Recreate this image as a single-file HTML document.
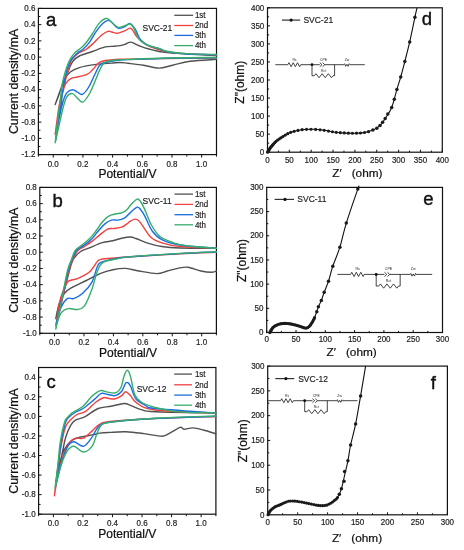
<!DOCTYPE html>
<html><head><meta charset="utf-8"><style>
html,body{margin:0;padding:0;background:#fff;width:464px;height:550px;overflow:hidden;position:relative;font-family:"Liberation Sans", sans-serif;}
</style></head><body>
<svg width="464" height="550" viewBox="0 0 464 550" style="position:absolute;left:0;top:0;font-family:'Liberation Sans', sans-serif;filter:blur(0.35px)">
<rect width="464" height="550" fill="#fff"/>
<rect x="38.4" y="8.4" width="178.1" height="146.2" fill="none" stroke="#111" stroke-width="1.2"/>
<text x="35.4" y="157.3" font-size="9.0" text-anchor="end" fill="#222" stroke="#222" stroke-width="0.2" textLength="13.78" lengthAdjust="spacingAndGlyphs">-1.2</text>
<text x="35.4" y="141.06" font-size="9.0" text-anchor="end" fill="#222" stroke="#222" stroke-width="0.2" textLength="13.78" lengthAdjust="spacingAndGlyphs">-1.0</text>
<text x="35.4" y="124.81" font-size="9.0" text-anchor="end" fill="#222" stroke="#222" stroke-width="0.2" textLength="13.78" lengthAdjust="spacingAndGlyphs">-0.8</text>
<text x="35.4" y="108.57" font-size="9.0" text-anchor="end" fill="#222" stroke="#222" stroke-width="0.2" textLength="13.78" lengthAdjust="spacingAndGlyphs">-0.6</text>
<text x="35.4" y="92.32" font-size="9.0" text-anchor="end" fill="#222" stroke="#222" stroke-width="0.2" textLength="13.78" lengthAdjust="spacingAndGlyphs">-0.4</text>
<text x="35.4" y="76.08" font-size="9.0" text-anchor="end" fill="#222" stroke="#222" stroke-width="0.2" textLength="13.78" lengthAdjust="spacingAndGlyphs">-0.2</text>
<text x="35.4" y="59.83" font-size="9.0" text-anchor="end" fill="#222" stroke="#222" stroke-width="0.2" textLength="11.12" lengthAdjust="spacingAndGlyphs">0.0</text>
<text x="35.4" y="43.59" font-size="9.0" text-anchor="end" fill="#222" stroke="#222" stroke-width="0.2" textLength="11.12" lengthAdjust="spacingAndGlyphs">0.2</text>
<text x="35.4" y="27.34" font-size="9.0" text-anchor="end" fill="#222" stroke="#222" stroke-width="0.2" textLength="11.12" lengthAdjust="spacingAndGlyphs">0.4</text>
<text x="35.4" y="11.1" font-size="9.0" text-anchor="end" fill="#222" stroke="#222" stroke-width="0.2" textLength="11.12" lengthAdjust="spacingAndGlyphs">0.6</text>
<path d="M38.4,154.6 h3 M38.4,146.48 h2 M38.4,138.36 h3 M38.4,130.23 h2 M38.4,122.11 h3 M38.4,113.99 h2 M38.4,105.87 h3 M38.4,97.74 h2 M38.4,89.62 h3 M38.4,81.5 h2 M38.4,73.38 h3 M38.4,65.26 h2 M38.4,57.13 h3 M38.4,49.01 h2 M38.4,40.89 h3 M38.4,32.77 h2 M38.4,24.64 h3 M38.4,16.52 h2 M38.4,8.4 h3 " stroke="#111" stroke-width="1" fill="none"/>
<text x="53.24" y="166.7" font-size="9.0" text-anchor="middle" fill="#222" stroke="#222" stroke-width="0.2" textLength="11.12" lengthAdjust="spacingAndGlyphs">0.0</text>
<text x="82.93" y="166.7" font-size="9.0" text-anchor="middle" fill="#222" stroke="#222" stroke-width="0.2" textLength="11.12" lengthAdjust="spacingAndGlyphs">0.2</text>
<text x="112.61" y="166.7" font-size="9.0" text-anchor="middle" fill="#222" stroke="#222" stroke-width="0.2" textLength="11.12" lengthAdjust="spacingAndGlyphs">0.4</text>
<text x="142.29" y="166.7" font-size="9.0" text-anchor="middle" fill="#222" stroke="#222" stroke-width="0.2" textLength="11.12" lengthAdjust="spacingAndGlyphs">0.6</text>
<text x="171.97" y="166.7" font-size="9.0" text-anchor="middle" fill="#222" stroke="#222" stroke-width="0.2" textLength="11.12" lengthAdjust="spacingAndGlyphs">0.8</text>
<text x="201.66" y="166.7" font-size="9.0" text-anchor="middle" fill="#222" stroke="#222" stroke-width="0.2" textLength="11.12" lengthAdjust="spacingAndGlyphs">1.0</text>
<path d="M38.4,154.6 v2 M53.24,154.6 v3 M68.08,154.6 v2 M82.93,154.6 v3 M97.77,154.6 v2 M112.61,154.6 v3 M127.45,154.6 v2 M142.29,154.6 v3 M157.13,154.6 v2 M171.97,154.6 v3 M186.82,154.6 v2 M201.66,154.6 v3 M216.5,154.6 v2 " stroke="#111" stroke-width="1" fill="none"/>
<path d="M55.2,104.6 C56.05,102.22 58.58,94.85 60.3,90.3 C62.02,85.75 64.03,80.87 65.5,77.3 C66.97,73.73 67.87,71.58 69.1,68.9 C70.33,66.22 71.18,63.35 72.9,61.2 C74.62,59.05 76.17,57.62 79.4,56 C82.63,54.38 87.98,53.02 92.3,51.5 C96.62,49.98 101.63,47.77 105.3,46.9 C108.97,46.03 111.85,46.52 114.3,46.3 C116.75,46.08 118.22,45.93 120,45.6 C121.78,45.27 123.18,44.88 125,44.3 C126.82,43.72 128.63,41.9 130.9,42.1 C133.17,42.3 135.58,44.35 138.6,45.5 C141.62,46.65 144.3,47.82 149,49 C153.7,50.18 155.55,51.52 166.8,52.6 C178.05,53.68 208.22,55.02 216.5,55.5 M216.5,59.4 C212.08,59.72 197.32,60.33 190,61.3 C182.68,62.27 177.77,64.07 172.6,65.2 C167.43,66.33 163.85,68.1 159,68.1 C154.15,68.1 148.67,66 143.5,65.2 C138.33,64.4 131.92,63.75 128,63.3 C124.08,62.85 122.72,62.53 120,62.5 C117.28,62.47 115.67,62.78 111.7,63.1 C107.73,63.42 101.58,63.65 96.2,64.4 C90.82,65.15 83.72,66.33 79.4,67.6 C75.08,68.87 72.83,69.95 70.3,72 C67.77,74.05 66.07,76.2 64.2,79.9 C62.33,83.6 60.6,90.08 59.1,94.2 C57.6,98.32 55.85,102.87 55.2,104.6" stroke="#515151" stroke-width="1.4" fill="none" stroke-linejoin="round" stroke-linecap="round"/>
<path d="M55.2,134.3 C55.85,129.57 57.82,112.95 59.1,105.9 C60.38,98.85 61.83,96.32 62.9,92 C63.97,87.68 64.68,83.33 65.5,80 C66.32,76.67 66.78,75.35 67.8,72 C68.82,68.65 69.88,63 71.6,59.9 C73.32,56.8 75.72,55.13 78.1,53.4 C80.48,51.67 83.32,51.23 85.9,49.5 C88.48,47.77 91.02,45.37 93.6,43 C96.18,40.63 99.02,37.23 101.4,35.3 C103.78,33.37 106.18,31.95 107.9,31.4 C109.62,30.85 110.2,31.68 111.7,32 C113.2,32.32 115.52,33.18 116.9,33.3 C118.28,33.42 118.68,33.1 120,32.7 C121.32,32.3 122.98,31.63 124.8,30.9 C126.62,30.17 128.88,27.3 130.9,28.3 C132.92,29.3 134.75,34.47 136.9,36.9 C139.05,39.33 141.62,41.3 143.8,42.9 C145.98,44.5 146.17,45.05 150,46.5 C153.83,47.95 160.77,50.42 166.8,51.6 C172.83,52.78 177.92,53.02 186.2,53.6 C194.48,54.18 211.45,54.85 216.5,55.1 M216.5,58 C208.22,58.08 181.55,58.3 166.8,58.5 C152.05,58.7 135.8,59.08 128,59.2 C120.2,59.32 123.78,58.98 120,59.2 C116.22,59.42 108.83,59.9 105.3,60.5 C101.77,61.1 100.9,61.28 98.8,62.8 C96.7,64.32 94.58,67.72 92.7,69.6 C90.82,71.48 89.87,72.92 87.5,74.1 C85.13,75.28 81.3,75.95 78.5,76.7 C75.7,77.45 72.87,77.42 70.7,78.6 C68.53,79.78 66.9,81.2 65.5,83.8 C64.1,86.4 63.17,90.67 62.3,94.2 C61.43,97.73 61.1,100.7 60.3,105 C59.5,109.3 58.35,115.12 57.5,120 C56.65,124.88 55.58,131.92 55.2,134.3" stroke="#F14040" stroke-width="1.4" fill="none" stroke-linejoin="round" stroke-linecap="round"/>
<path d="M55.8,140 C56.25,136.67 57.63,125.83 58.5,120 C59.37,114.17 60.27,110.17 61,105 C61.73,99.83 61.98,94.5 62.9,89 C63.82,83.5 65.27,76.63 66.5,72 C67.73,67.37 68.58,64.3 70.3,61.2 C72.02,58.1 74.63,55.45 76.8,53.4 C78.97,51.35 81.13,50.83 83.3,48.9 C85.47,46.97 87.65,44.72 89.8,41.8 C91.95,38.88 94.05,34.43 96.2,31.4 C98.35,28.37 100.75,25.43 102.7,23.6 C104.65,21.77 106.4,20.62 107.9,20.4 C109.4,20.18 110.2,21.12 111.7,22.3 C113.2,23.48 115.57,26.5 116.9,27.5 C118.23,28.5 118.38,28.45 119.7,28.3 C121.02,28.15 123.08,27.38 124.8,26.6 C126.52,25.82 128.27,23.18 130,23.6 C131.73,24.02 133.48,26.45 135.2,29.1 C136.92,31.75 138.3,36.87 140.3,39.5 C142.3,42.13 143.92,43.32 147.2,44.9 C150.48,46.48 156.73,47.88 160,49 C163.27,50.12 162.43,50.77 166.8,51.6 C171.17,52.43 177.92,53.47 186.2,54 C194.48,54.53 211.45,54.67 216.5,54.8 M216.5,57.8 C208.22,57.88 181.55,58 166.8,58.3 C152.05,58.6 135.8,59.32 128,59.6 C120.2,59.88 123,59.68 120,60 C117,60.32 113.25,60.77 110,61.5 C106.75,62.23 102.95,62.4 100.5,64.4 C98.05,66.4 97.25,69.73 95.3,73.5 C93.35,77.27 90.97,83.52 88.8,87 C86.63,90.48 84.18,93.53 82.3,94.4 C80.42,95.27 79.12,92.98 77.5,92.2 C75.88,91.42 74.38,89.58 72.6,89.7 C70.82,89.82 68.42,90.85 66.8,92.9 C65.18,94.95 64.18,97.68 62.9,102 C61.62,106.32 60.28,112.77 59.1,118.8 C57.92,124.83 56.35,134.97 55.8,138.2" stroke="#1A6FDF" stroke-width="1.4" fill="none" stroke-linejoin="round" stroke-linecap="round"/>
<path d="M55.2,142.7 C55.63,138.72 56.95,126.02 57.8,118.8 C58.65,111.58 59.55,105.23 60.3,99.4 C61.05,93.57 61.48,88.37 62.3,83.8 C63.12,79.23 64.07,75.77 65.2,72 C66.33,68.23 67.6,64.3 69.1,61.2 C70.6,58.1 72.27,55.57 74.2,53.4 C76.13,51.23 78.75,49.93 80.7,48.2 C82.65,46.47 83.97,45.37 85.9,43 C87.83,40.63 90.15,37.23 92.3,34 C94.45,30.77 96.63,26.18 98.8,23.6 C100.97,21.02 103.57,19.13 105.3,18.5 C107.03,17.87 107.7,18.73 109.2,19.8 C110.7,20.87 112.7,23.63 114.3,24.9 C115.9,26.17 117.05,27.27 118.8,27.4 C120.55,27.53 122.93,26.27 124.8,25.7 C126.67,25.13 128.57,23.72 130,24 C131.43,24.28 131.97,24.97 133.4,27.4 C134.83,29.83 136.58,35.78 138.6,38.6 C140.62,41.42 141.93,42.6 145.5,44.3 C149.07,46 156.45,47.65 160,48.8 C163.55,49.95 162.43,50.4 166.8,51.2 C171.17,52 177.92,53.05 186.2,53.6 C194.48,54.15 211.45,54.35 216.5,54.5 M216.5,57.5 C208.22,57.58 181.55,57.68 166.8,58 C152.05,58.32 135.8,59.08 128,59.4 C120.2,59.72 122.72,59.72 120,59.9 C117.28,60.08 114.37,59.97 111.7,60.5 C109.03,61.03 106.15,61.18 104,63.1 C101.85,65.02 99.93,69.85 98.8,72 C97.67,74.15 98.65,72.58 97.2,76 C95.75,79.42 92.47,88.17 90.1,92.5 C87.73,96.83 85.02,100.95 83,102 C80.98,103.05 79.73,100.2 78,98.8 C76.27,97.4 74.47,93.93 72.6,93.6 C70.73,93.27 68.42,94.32 66.8,96.8 C65.18,99.28 64.18,103.75 62.9,108.5 C61.62,113.25 60.38,119.6 59.1,125.3 C57.82,131 55.85,139.8 55.2,142.7" stroke="#37AD6B" stroke-width="1.4" fill="none" stroke-linejoin="round" stroke-linecap="round"/>
<text x="127.45" y="177.9" font-size="12" text-anchor="middle" fill="#111" stroke="#111" stroke-width="0.22">Potential/V</text>
<text x="0" y="0" font-size="12.3" text-anchor="middle" fill="#111" stroke="#111" stroke-width="0.22" transform="translate(18,81.4) rotate(-90)">Current density/mA</text>
<text x="46.1" y="25.5" font-size="18.5" text-anchor="start" fill="#111" stroke="#111" stroke-width="0.4">a</text>
<text x="142.5" y="30.8" font-size="9.18" text-anchor="start" fill="#222" stroke="#222" stroke-width="0.18" textLength="29.76" lengthAdjust="spacingAndGlyphs">SVC-21</text>
<line x1="174.3" y1="15.3" x2="193.1" y2="15.3" stroke="#515151" stroke-width="1.3"/>
<text x="194.9" y="18.1" font-size="8.64" text-anchor="start" fill="#222" stroke="#222" stroke-width="0.18" textLength="10.67" lengthAdjust="spacingAndGlyphs">1st</text>
<line x1="174.3" y1="25.5" x2="193.1" y2="25.5" stroke="#F14040" stroke-width="1.3"/>
<text x="194.9" y="28.3" font-size="8.64" text-anchor="start" fill="#222" stroke="#222" stroke-width="0.18" textLength="13.35" lengthAdjust="spacingAndGlyphs">2nd</text>
<line x1="174.3" y1="35.4" x2="193.1" y2="35.4" stroke="#1A6FDF" stroke-width="1.3"/>
<text x="194.9" y="38.2" font-size="8.64" text-anchor="start" fill="#222" stroke="#222" stroke-width="0.18" textLength="11.12" lengthAdjust="spacingAndGlyphs">3th</text>
<line x1="174.3" y1="45.6" x2="193.1" y2="45.6" stroke="#37AD6B" stroke-width="1.3"/>
<text x="194.9" y="48.4" font-size="8.64" text-anchor="start" fill="#222" stroke="#222" stroke-width="0.18" textLength="11.12" lengthAdjust="spacingAndGlyphs">4th</text>
<rect x="39.8" y="187.4" width="176.6" height="145.9" fill="none" stroke="#111" stroke-width="1.2"/>
<text x="36.8" y="336" font-size="9.0" text-anchor="end" fill="#222" stroke="#222" stroke-width="0.2" textLength="13.78" lengthAdjust="spacingAndGlyphs">-1.0</text>
<text x="36.8" y="319.79" font-size="9.0" text-anchor="end" fill="#222" stroke="#222" stroke-width="0.2" textLength="13.78" lengthAdjust="spacingAndGlyphs">-0.8</text>
<text x="36.8" y="303.58" font-size="9.0" text-anchor="end" fill="#222" stroke="#222" stroke-width="0.2" textLength="13.78" lengthAdjust="spacingAndGlyphs">-0.6</text>
<text x="36.8" y="287.37" font-size="9.0" text-anchor="end" fill="#222" stroke="#222" stroke-width="0.2" textLength="13.78" lengthAdjust="spacingAndGlyphs">-0.4</text>
<text x="36.8" y="271.16" font-size="9.0" text-anchor="end" fill="#222" stroke="#222" stroke-width="0.2" textLength="13.78" lengthAdjust="spacingAndGlyphs">-0.2</text>
<text x="36.8" y="254.94" font-size="9.0" text-anchor="end" fill="#222" stroke="#222" stroke-width="0.2" textLength="11.12" lengthAdjust="spacingAndGlyphs">0.0</text>
<text x="36.8" y="238.73" font-size="9.0" text-anchor="end" fill="#222" stroke="#222" stroke-width="0.2" textLength="11.12" lengthAdjust="spacingAndGlyphs">0.2</text>
<text x="36.8" y="222.52" font-size="9.0" text-anchor="end" fill="#222" stroke="#222" stroke-width="0.2" textLength="11.12" lengthAdjust="spacingAndGlyphs">0.4</text>
<text x="36.8" y="206.31" font-size="9.0" text-anchor="end" fill="#222" stroke="#222" stroke-width="0.2" textLength="11.12" lengthAdjust="spacingAndGlyphs">0.6</text>
<text x="36.8" y="190.1" font-size="9.0" text-anchor="end" fill="#222" stroke="#222" stroke-width="0.2" textLength="11.12" lengthAdjust="spacingAndGlyphs">0.8</text>
<path d="M39.8,333.3 h3 M39.8,325.19 h2 M39.8,317.09 h3 M39.8,308.98 h2 M39.8,300.88 h3 M39.8,292.77 h2 M39.8,284.67 h3 M39.8,276.56 h2 M39.8,268.46 h3 M39.8,260.35 h2 M39.8,252.24 h3 M39.8,244.14 h2 M39.8,236.03 h3 M39.8,227.93 h2 M39.8,219.82 h3 M39.8,211.72 h2 M39.8,203.61 h3 M39.8,195.51 h2 M39.8,187.4 h3 " stroke="#111" stroke-width="1" fill="none"/>
<text x="54.52" y="345.4" font-size="9.0" text-anchor="middle" fill="#222" stroke="#222" stroke-width="0.2" textLength="11.12" lengthAdjust="spacingAndGlyphs">0.0</text>
<text x="83.95" y="345.4" font-size="9.0" text-anchor="middle" fill="#222" stroke="#222" stroke-width="0.2" textLength="11.12" lengthAdjust="spacingAndGlyphs">0.2</text>
<text x="113.38" y="345.4" font-size="9.0" text-anchor="middle" fill="#222" stroke="#222" stroke-width="0.2" textLength="11.12" lengthAdjust="spacingAndGlyphs">0.4</text>
<text x="142.82" y="345.4" font-size="9.0" text-anchor="middle" fill="#222" stroke="#222" stroke-width="0.2" textLength="11.12" lengthAdjust="spacingAndGlyphs">0.6</text>
<text x="172.25" y="345.4" font-size="9.0" text-anchor="middle" fill="#222" stroke="#222" stroke-width="0.2" textLength="11.12" lengthAdjust="spacingAndGlyphs">0.8</text>
<text x="201.68" y="345.4" font-size="9.0" text-anchor="middle" fill="#222" stroke="#222" stroke-width="0.2" textLength="11.12" lengthAdjust="spacingAndGlyphs">1.0</text>
<path d="M39.8,333.3 v2 M54.52,333.3 v3 M69.23,333.3 v2 M83.95,333.3 v3 M98.67,333.3 v2 M113.38,333.3 v3 M128.1,333.3 v2 M142.82,333.3 v3 M157.53,333.3 v2 M172.25,333.3 v3 M186.97,333.3 v2 M201.68,333.3 v3 M216.4,333.3 v2 " stroke="#111" stroke-width="1" fill="none"/>
<path d="M55.8,318.6 C57.1,314.37 61.23,301.53 63.6,293.2 C65.97,284.87 68.35,274.3 70,268.6 C71.65,262.9 71.78,261.82 73.5,259 C75.22,256.18 77.65,253.55 80.3,251.7 C82.95,249.85 85.73,249.4 89.4,247.9 C93.07,246.4 98.42,243.88 102.3,242.7 C106.18,241.52 109.47,241.55 112.7,240.8 C115.93,240.05 118.72,238.83 121.7,238.2 C124.68,237.57 128.22,236.95 130.6,237 C132.98,237.05 133.3,237.53 136,238.5 C138.7,239.47 142.48,241.47 146.8,242.8 C151.12,244.13 156.37,245.63 161.9,246.5 C167.43,247.37 170.92,247.7 180,248 C189.08,248.3 210.33,248.25 216.4,248.3 M216.4,271 C215.53,271.22 213.78,272.3 211.2,272.3 C208.62,272.3 204.78,271.85 200.9,271 C197.02,270.15 191.78,267.63 187.9,267.2 C184.02,266.77 181.05,267.77 177.6,268.4 C174.15,269.03 170.65,270.13 167.2,271 C163.75,271.87 161.63,273.6 156.9,273.6 C152.17,273.6 143.97,271.87 138.8,271 C133.63,270.13 130.22,268.62 125.9,268.4 C121.58,268.18 117.22,268.83 112.9,269.7 C108.58,270.57 104.42,271.8 100,273.6 C95.58,275.4 91.1,278.15 86.4,280.5 C81.7,282.85 75.45,285.58 71.8,287.7 C68.15,289.82 66.62,290.47 64.5,293.2 C62.38,295.93 60.55,299.87 59.1,304.1 C57.65,308.33 56.35,316.18 55.8,318.6" stroke="#515151" stroke-width="1.4" fill="none" stroke-linejoin="round" stroke-linecap="round"/>
<path d="M56.4,324 C57.25,320.5 59.57,311.33 61.5,303 C63.43,294.67 66.15,281.17 68,274 C69.85,266.83 70.97,263.92 72.6,260 C74.23,256.08 75.87,252.73 77.8,250.5 C79.73,248.27 81.83,248.12 84.2,246.6 C86.57,245.08 89.4,243.35 92,241.4 C94.6,239.45 97.22,236.95 99.8,234.9 C102.38,232.85 105.13,230.17 107.5,229.1 C109.87,228.03 111.63,228.82 114,228.5 C116.37,228.18 119.55,227.97 121.7,227.2 C123.85,226.43 125.52,224.88 126.9,223.9 C128.28,222.92 128.65,222.1 130,221.3 C131.35,220.5 133.58,219.23 135,219.1 C136.42,218.97 137.25,219.42 138.5,220.5 C139.75,221.58 140.4,222.78 142.5,225.6 C144.6,228.42 147.87,234.53 151.1,237.4 C154.33,240.27 157.08,241.28 161.9,242.8 C166.72,244.32 170.92,245.58 180,246.5 C189.08,247.42 210.33,248 216.4,248.3 M216.4,252.2 C210.33,252.47 194.23,253.03 180,253.8 C165.77,254.57 141.83,256.1 131,256.8 C120.17,257.5 120,257.57 115,258 C110,258.43 103.95,258.8 101,259.4 C98.05,260 99.28,259.45 97.3,261.6 C95.32,263.75 92.43,269.47 89.1,272.3 C85.77,275.13 80.78,277.08 77.3,278.6 C73.82,280.12 70.48,279.58 68.2,281.4 C65.92,283.22 65.12,285.72 63.6,289.5 C62.08,293.28 60.3,298.35 59.1,304.1 C57.9,309.85 56.85,320.68 56.4,324" stroke="#F14040" stroke-width="1.4" fill="none" stroke-linejoin="round" stroke-linecap="round"/>
<path d="M56,326 C56.83,322.33 59.08,312.83 61,304 C62.92,295.17 65.68,280.33 67.5,273 C69.32,265.67 70.4,263.75 71.9,260 C73.4,256.25 74.67,252.85 76.5,250.5 C78.33,248.15 80.53,247.63 82.9,245.9 C85.27,244.17 88.32,242.37 90.7,240.1 C93.08,237.83 94.83,235 97.2,232.3 C99.57,229.6 102.53,225.93 104.9,223.9 C107.27,221.87 109.23,220.73 111.4,220.1 C113.57,219.47 115.75,220.43 117.9,220.1 C120.05,219.77 122.28,219.3 124.3,218.1 C126.32,216.9 127.87,214.72 130,212.9 C132.13,211.08 135.35,207.77 137.1,207.2 C138.85,206.63 139.23,208.05 140.5,209.5 C141.77,210.95 142.75,212.32 144.7,215.9 C146.65,219.48 149.33,227.05 152.2,231 C155.07,234.95 157.27,237.27 161.9,239.6 C166.53,241.93 170.92,243.55 180,245 C189.08,246.45 210.33,247.75 216.4,248.3 M216.4,252 C210.33,252.27 194.23,252.82 180,253.6 C165.77,254.38 141.83,255.87 131,256.7 C120.17,257.53 120,257.67 115,258.6 C110,259.53 103.95,260.93 101,262.3 C98.05,263.67 98.83,263.47 97.3,266.8 C95.77,270.13 94.23,277.9 91.8,282.3 C89.37,286.7 85.73,290.48 82.7,293.2 C79.67,295.92 76.17,297.7 73.6,298.6 C71.03,299.5 69.42,297.08 67.3,298.6 C65.18,300.12 62.72,303.75 60.9,307.7 C59.08,311.65 57.22,319.25 56.4,322.3 C55.58,325.35 56.07,325.38 56,326" stroke="#1A6FDF" stroke-width="1.4" fill="none" stroke-linejoin="round" stroke-linecap="round"/>
<path d="M55.8,329 C56.65,324.85 58.98,313.7 60.9,304.1 C62.82,294.5 65.57,278.75 67.3,271.4 C69.03,264.05 69.98,263.48 71.3,260 C72.62,256.52 73.48,252.95 75.2,250.5 C76.92,248.05 79.23,247.25 81.6,245.3 C83.97,243.35 87.02,241.18 89.4,238.8 C91.78,236.42 93.75,233.8 95.9,231 C98.05,228.2 100.15,224.47 102.3,222 C104.45,219.53 106.63,217.53 108.8,216.2 C110.97,214.87 113.15,214.55 115.3,214 C117.45,213.45 119.77,213.62 121.7,212.9 C123.63,212.18 125.35,211.1 126.9,209.7 C128.45,208.3 129.3,206.27 131,204.5 C132.7,202.73 135.52,199.6 137.1,199.1 C138.68,198.6 139.23,199.78 140.5,201.5 C141.77,203.22 142.93,205.57 144.7,209.4 C146.47,213.23 148.6,220.02 151.1,224.5 C153.6,228.98 156.47,233.43 159.7,236.3 C162.93,239.17 167.12,240.32 170.5,241.7 C173.88,243.08 175.92,243.75 180,244.6 C184.08,245.45 188.93,246.18 195,246.8 C201.07,247.42 212.83,248.05 216.4,248.3 M216.4,251.8 C210.33,252.07 194.23,252.6 180,253.4 C165.77,254.2 141.83,255.62 131,256.6 C120.17,257.58 119.72,258.3 115,259.3 C110.28,260.3 105.65,260.58 102.7,262.6 C99.75,264.62 99.12,266.92 97.3,271.4 C95.48,275.88 93.93,283.75 91.8,289.5 C89.67,295.25 86.92,302.57 84.5,305.9 C82.08,309.23 80.02,309.05 77.3,309.5 C74.58,309.95 70.93,307.98 68.2,308.6 C65.47,309.22 62.87,310.32 60.9,313.2 C58.93,316.08 57.25,323.27 56.4,325.9 C55.55,328.53 55.9,328.48 55.8,329" stroke="#37AD6B" stroke-width="1.4" fill="none" stroke-linejoin="round" stroke-linecap="round"/>
<text x="128.1" y="356.6" font-size="12" text-anchor="middle" fill="#111" stroke="#111" stroke-width="0.22">Potential/V</text>
<text x="0" y="0" font-size="12.3" text-anchor="middle" fill="#111" stroke="#111" stroke-width="0.22" transform="translate(18,260.2) rotate(-90)">Current density/mA</text>
<text x="52.4" y="207.2" font-size="18.5" text-anchor="start" fill="#111" stroke="#111" stroke-width="0.4">b</text>
<text x="142.5" y="203.7" font-size="9.18" text-anchor="start" fill="#222" stroke="#222" stroke-width="0.18" textLength="29.13" lengthAdjust="spacingAndGlyphs">SVC-11</text>
<line x1="174.5" y1="194.1" x2="193" y2="194.1" stroke="#515151" stroke-width="1.3"/>
<text x="194.9" y="196.9" font-size="8.64" text-anchor="start" fill="#222" stroke="#222" stroke-width="0.18" textLength="10.67" lengthAdjust="spacingAndGlyphs">1st</text>
<line x1="174.5" y1="204.4" x2="193" y2="204.4" stroke="#F14040" stroke-width="1.3"/>
<text x="194.9" y="207.2" font-size="8.64" text-anchor="start" fill="#222" stroke="#222" stroke-width="0.18" textLength="13.35" lengthAdjust="spacingAndGlyphs">2nd</text>
<line x1="174.5" y1="214.7" x2="193" y2="214.7" stroke="#1A6FDF" stroke-width="1.3"/>
<text x="194.9" y="217.5" font-size="8.64" text-anchor="start" fill="#222" stroke="#222" stroke-width="0.18" textLength="11.12" lengthAdjust="spacingAndGlyphs">3th</text>
<line x1="174.5" y1="224.8" x2="193" y2="224.8" stroke="#37AD6B" stroke-width="1.3"/>
<text x="194.9" y="227.6" font-size="8.64" text-anchor="start" fill="#222" stroke="#222" stroke-width="0.18" textLength="11.12" lengthAdjust="spacingAndGlyphs">4th</text>
<rect x="38.6" y="367.5" width="177.3" height="146.7" fill="none" stroke="#111" stroke-width="1.2"/>
<text x="35.6" y="516.9" font-size="9.0" text-anchor="end" fill="#222" stroke="#222" stroke-width="0.2" textLength="13.78" lengthAdjust="spacingAndGlyphs">-1.0</text>
<text x="35.6" y="497.34" font-size="9.0" text-anchor="end" fill="#222" stroke="#222" stroke-width="0.2" textLength="13.78" lengthAdjust="spacingAndGlyphs">-0.8</text>
<text x="35.6" y="477.78" font-size="9.0" text-anchor="end" fill="#222" stroke="#222" stroke-width="0.2" textLength="13.78" lengthAdjust="spacingAndGlyphs">-0.6</text>
<text x="35.6" y="458.22" font-size="9.0" text-anchor="end" fill="#222" stroke="#222" stroke-width="0.2" textLength="13.78" lengthAdjust="spacingAndGlyphs">-0.4</text>
<text x="35.6" y="438.66" font-size="9.0" text-anchor="end" fill="#222" stroke="#222" stroke-width="0.2" textLength="13.78" lengthAdjust="spacingAndGlyphs">-0.2</text>
<text x="35.6" y="419.1" font-size="9.0" text-anchor="end" fill="#222" stroke="#222" stroke-width="0.2" textLength="11.12" lengthAdjust="spacingAndGlyphs">0.0</text>
<text x="35.6" y="399.54" font-size="9.0" text-anchor="end" fill="#222" stroke="#222" stroke-width="0.2" textLength="11.12" lengthAdjust="spacingAndGlyphs">0.2</text>
<text x="35.6" y="379.98" font-size="9.0" text-anchor="end" fill="#222" stroke="#222" stroke-width="0.2" textLength="11.12" lengthAdjust="spacingAndGlyphs">0.4</text>
<path d="M38.6,514.2 h3 M38.6,504.42 h2 M38.6,494.64 h3 M38.6,484.86 h2 M38.6,475.08 h3 M38.6,465.3 h2 M38.6,455.52 h3 M38.6,445.74 h2 M38.6,435.96 h3 M38.6,426.18 h2 M38.6,416.4 h3 M38.6,406.62 h2 M38.6,396.84 h3 M38.6,387.06 h2 M38.6,377.28 h3 M38.6,367.5 h2 " stroke="#111" stroke-width="1" fill="none"/>
<text x="53.38" y="526.3" font-size="9.0" text-anchor="middle" fill="#222" stroke="#222" stroke-width="0.2" textLength="11.12" lengthAdjust="spacingAndGlyphs">0.0</text>
<text x="82.93" y="526.3" font-size="9.0" text-anchor="middle" fill="#222" stroke="#222" stroke-width="0.2" textLength="11.12" lengthAdjust="spacingAndGlyphs">0.2</text>
<text x="112.47" y="526.3" font-size="9.0" text-anchor="middle" fill="#222" stroke="#222" stroke-width="0.2" textLength="11.12" lengthAdjust="spacingAndGlyphs">0.4</text>
<text x="142.03" y="526.3" font-size="9.0" text-anchor="middle" fill="#222" stroke="#222" stroke-width="0.2" textLength="11.12" lengthAdjust="spacingAndGlyphs">0.6</text>
<text x="171.58" y="526.3" font-size="9.0" text-anchor="middle" fill="#222" stroke="#222" stroke-width="0.2" textLength="11.12" lengthAdjust="spacingAndGlyphs">0.8</text>
<text x="201.13" y="526.3" font-size="9.0" text-anchor="middle" fill="#222" stroke="#222" stroke-width="0.2" textLength="11.12" lengthAdjust="spacingAndGlyphs">1.0</text>
<path d="M38.6,514.2 v2 M53.38,514.2 v3 M68.15,514.2 v2 M82.93,514.2 v3 M97.7,514.2 v2 M112.47,514.2 v3 M127.25,514.2 v2 M142.03,514.2 v3 M156.8,514.2 v2 M171.58,514.2 v3 M186.35,514.2 v2 M201.13,514.2 v3 M215.9,514.2 v2 " stroke="#111" stroke-width="1" fill="none"/>
<path d="M55.8,485.5 C56.25,482.92 57.53,474.85 58.5,470 C59.47,465.15 60.43,461.73 61.6,456.4 C62.77,451.07 64.03,443.1 65.5,438 C66.97,432.9 68.73,428.77 70.4,425.8 C72.07,422.83 73.03,421.73 75.5,420.2 C77.97,418.67 81.43,418.55 85.2,416.6 C88.97,414.65 93.8,410.22 98.1,408.5 C102.4,406.78 106.68,407.13 111,406.3 C115.32,405.47 120.77,403.67 124,403.5 C127.23,403.33 127.53,404.28 130.4,405.3 C133.27,406.32 137.1,408.53 141.2,409.6 C145.3,410.67 142.55,411.13 155,411.7 C167.45,412.27 205.75,412.78 215.9,413 M215.9,433.8 C213.82,433.17 207.2,430.98 203.4,430 C199.6,429.02 196.33,428.03 193.1,427.9 C189.87,427.77 186.15,429.28 184,429.2 C181.85,429.12 182.57,426.75 180.2,427.4 C177.83,428.05 172.82,431.63 169.8,433.1 C166.78,434.57 166.4,436.12 162.1,436.2 C157.8,436.28 150.03,434.33 144,433.6 C137.97,432.87 131.62,432 125.9,431.8 C120.18,431.6 114.02,432.18 109.7,432.4 C105.38,432.62 102.67,432.73 100,433.1 C97.33,433.47 97.18,433.87 93.7,434.6 C90.22,435.33 82.75,436.53 79.1,437.5 C75.45,438.47 74.22,438.47 71.8,440.4 C69.38,442.33 66.53,445.7 64.6,449.1 C62.67,452.5 61.67,454.73 60.2,460.8 C58.73,466.87 56.53,481.38 55.8,485.5" stroke="#515151" stroke-width="1.4" fill="none" stroke-linejoin="round" stroke-linecap="round"/>
<path d="M54.4,495.7 C55.12,489.88 57.27,470.75 58.7,460.8 C60.13,450.85 61.78,441.8 63,436 C64.22,430.2 64.82,428.62 66,426 C67.18,423.38 68.27,422.22 70.1,420.3 C71.93,418.38 74.48,415.93 77,414.5 C79.52,413.07 82.03,413.78 85.2,411.7 C88.37,409.62 92.95,404.33 96,402 C99.05,399.67 101.33,398.28 103.5,397.7 C105.67,397.12 107.03,398.32 109,398.5 C110.97,398.68 113.17,399.28 115.3,398.8 C117.43,398.32 120.07,396.78 121.8,395.6 C123.53,394.42 124.27,391.7 125.7,391.7 C127.13,391.7 128.53,393.7 130.4,395.6 C132.27,397.5 132.8,400.7 136.9,403.1 C141,405.5 141.83,408.35 155,410 C168.17,411.65 205.75,412.5 215.9,413 M215.9,416.5 C205.75,416.83 172.7,417.67 155,418.5 C137.3,419.33 118.95,420.52 109.7,421.5 C100.45,422.48 102.42,422.83 99.5,424.4 C96.58,425.97 94.87,428.6 92.2,430.9 C89.53,433.2 86.17,436.98 83.5,438.2 C80.83,439.42 78.38,437.6 76.2,438.2 C74.02,438.8 72.33,439.5 70.4,441.8 C68.47,444.1 66.55,447.15 64.6,452 C62.65,456.85 60.4,463.62 58.7,470.9 C57,478.18 55.12,491.57 54.4,495.7" stroke="#F14040" stroke-width="1.4" fill="none" stroke-linejoin="round" stroke-linecap="round"/>
<path d="M55.5,486 C55.97,482.67 57.38,473.17 58.3,466 C59.22,458.83 59.88,450 61,443 C62.12,436 63.85,428.13 65,424 C66.15,419.87 66.23,420.12 67.9,418.2 C69.57,416.28 72.48,414.12 75,412.5 C77.52,410.88 79.87,410.6 83,408.5 C86.13,406.4 90.75,402.42 93.8,399.9 C96.85,397.38 98.93,394.3 101.3,393.4 C103.67,392.5 105.67,394.13 108,394.5 C110.33,394.87 113,396.13 115.3,395.6 C117.6,395.07 120,393.47 121.8,391.3 C123.6,389.13 124.67,383.5 126.1,382.6 C127.53,381.7 128.78,383.2 130.4,385.9 C132.02,388.6 133.28,395.57 135.8,398.8 C138.32,402.03 142.3,403.68 145.5,405.3 C148.7,406.92 143.27,407.22 155,408.5 C166.73,409.78 205.75,412.25 215.9,413 M215.9,416.3 C205.75,416.67 172.7,417.52 155,418.5 C137.3,419.48 118.95,420.98 109.7,422.2 C100.45,423.42 101.93,424.23 99.5,425.8 C97.07,427.37 96.55,429.42 95.1,431.6 C93.65,433.78 92.73,436.47 90.8,438.9 C88.87,441.33 86.3,445.72 83.5,446.2 C80.7,446.68 76.43,442.05 74,441.8 C71.57,441.55 70.72,442.03 68.9,444.7 C67.08,447.37 65.15,451.73 63.1,457.8 C61.05,463.87 57.87,476.4 56.6,481.1 C55.33,485.8 55.68,485.18 55.5,486" stroke="#1A6FDF" stroke-width="1.4" fill="none" stroke-linejoin="round" stroke-linecap="round"/>
<path d="M55.1,488.4 C55.58,484.28 57.12,471.6 58,463.7 C58.88,455.8 59.3,447.95 60.4,441 C61.5,434.05 63.5,425.83 64.6,422 C65.7,418.17 65.73,419.53 67,418 C68.27,416.47 69.53,414.75 72.2,412.8 C74.87,410.85 79.77,409 83,406.3 C86.23,403.6 88.72,399.22 91.6,396.6 C94.48,393.98 97.78,391.38 100.3,390.6 C102.82,389.82 104.2,391.53 106.7,391.9 C109.2,392.27 112.97,393.45 115.3,392.8 C117.63,392.15 119.25,390.77 120.7,388 C122.15,385.23 122.92,379.15 124,376.2 C125.08,373.25 126.13,370.3 127.2,370.3 C128.27,370.3 129.15,372.17 130.4,376.2 C131.65,380.23 132.9,390.2 134.7,394.5 C136.5,398.8 137.82,399.85 141.2,402 C144.58,404.15 149.12,405.8 155,407.4 C160.88,409 166.35,410.67 176.5,411.6 C186.65,412.53 209.33,412.77 215.9,413 M215.9,416 C205.75,416.37 172.7,417.17 155,418.2 C137.3,419.23 118.72,420.93 109.7,422.2 C100.68,423.47 103.08,423.73 100.9,425.8 C98.72,427.87 98.05,431.2 96.6,434.6 C95.15,438 94.38,443.3 92.2,446.2 C90.02,449.1 86.53,452 83.5,452 C80.47,452 76.67,446.43 74,446.2 C71.33,445.97 69.57,447.68 67.5,450.6 C65.43,453.52 63.67,457.4 61.6,463.7 C59.53,470 56.18,484.28 55.1,488.4" stroke="#37AD6B" stroke-width="1.4" fill="none" stroke-linejoin="round" stroke-linecap="round"/>
<text x="127.25" y="537.5" font-size="12" text-anchor="middle" fill="#111" stroke="#111" stroke-width="0.22">Potential/V</text>
<text x="0" y="0" font-size="12.3" text-anchor="middle" fill="#111" stroke="#111" stroke-width="0.22" transform="translate(18,441) rotate(-90)">Current density/mA</text>
<text x="46.4" y="387.6" font-size="18.5" text-anchor="start" fill="#111" stroke="#111" stroke-width="0.4">c</text>
<text x="136.7" y="392.1" font-size="9.18" text-anchor="start" fill="#222" stroke="#222" stroke-width="0.18" textLength="29.76" lengthAdjust="spacingAndGlyphs">SVC-12</text>
<line x1="174.2" y1="374.1" x2="192" y2="374.1" stroke="#515151" stroke-width="1.3"/>
<text x="194.9" y="376.9" font-size="8.64" text-anchor="start" fill="#222" stroke="#222" stroke-width="0.18" textLength="10.67" lengthAdjust="spacingAndGlyphs">1st</text>
<line x1="174.2" y1="384.8" x2="192" y2="384.8" stroke="#F14040" stroke-width="1.3"/>
<text x="194.9" y="387.6" font-size="8.64" text-anchor="start" fill="#222" stroke="#222" stroke-width="0.18" textLength="13.35" lengthAdjust="spacingAndGlyphs">2nd</text>
<line x1="174.2" y1="395.1" x2="192" y2="395.1" stroke="#1A6FDF" stroke-width="1.3"/>
<text x="194.9" y="397.9" font-size="8.64" text-anchor="start" fill="#222" stroke="#222" stroke-width="0.18" textLength="11.12" lengthAdjust="spacingAndGlyphs">3th</text>
<line x1="174.2" y1="405.2" x2="192" y2="405.2" stroke="#37AD6B" stroke-width="1.3"/>
<text x="194.9" y="408" font-size="8.64" text-anchor="start" fill="#222" stroke="#222" stroke-width="0.18" textLength="11.12" lengthAdjust="spacingAndGlyphs">4th</text>
<rect x="267.5" y="7.8" width="174.8" height="144.4" fill="none" stroke="#111" stroke-width="1.2"/>
<text x="264.3" y="154.9" font-size="9.0" text-anchor="end" fill="#222" stroke="#222" stroke-width="0.2" textLength="4.45" lengthAdjust="spacingAndGlyphs">0</text>
<text x="264.3" y="136.85" font-size="9.0" text-anchor="end" fill="#222" stroke="#222" stroke-width="0.2" textLength="8.9" lengthAdjust="spacingAndGlyphs">50</text>
<text x="264.3" y="118.8" font-size="9.0" text-anchor="end" fill="#222" stroke="#222" stroke-width="0.2" textLength="13.34" lengthAdjust="spacingAndGlyphs">100</text>
<text x="264.3" y="100.75" font-size="9.0" text-anchor="end" fill="#222" stroke="#222" stroke-width="0.2" textLength="13.34" lengthAdjust="spacingAndGlyphs">150</text>
<text x="264.3" y="82.7" font-size="9.0" text-anchor="end" fill="#222" stroke="#222" stroke-width="0.2" textLength="13.34" lengthAdjust="spacingAndGlyphs">200</text>
<text x="264.3" y="64.65" font-size="9.0" text-anchor="end" fill="#222" stroke="#222" stroke-width="0.2" textLength="13.34" lengthAdjust="spacingAndGlyphs">250</text>
<text x="264.3" y="46.6" font-size="9.0" text-anchor="end" fill="#222" stroke="#222" stroke-width="0.2" textLength="13.34" lengthAdjust="spacingAndGlyphs">300</text>
<text x="264.3" y="28.55" font-size="9.0" text-anchor="end" fill="#222" stroke="#222" stroke-width="0.2" textLength="13.34" lengthAdjust="spacingAndGlyphs">350</text>
<text x="264.3" y="10.5" font-size="9.0" text-anchor="end" fill="#222" stroke="#222" stroke-width="0.2" textLength="13.34" lengthAdjust="spacingAndGlyphs">400</text>
<path d="M267.5,152.2 h2.5 M267.5,143.17 h1.6 M267.5,134.15 h2.5 M267.5,125.12 h1.6 M267.5,116.1 h2.5 M267.5,107.07 h1.6 M267.5,98.05 h2.5 M267.5,89.03 h1.6 M267.5,80 h2.5 M267.5,70.97 h1.6 M267.5,61.95 h2.5 M267.5,52.93 h1.6 M267.5,43.9 h2.5 M267.5,34.88 h1.6 M267.5,25.85 h2.5 M267.5,16.83 h1.6 M267.5,7.8 h2.5 " stroke="#111" stroke-width="1" fill="none"/>
<text x="267.5" y="162.5" font-size="9.0" text-anchor="middle" fill="#222" stroke="#222" stroke-width="0.2" textLength="4.45" lengthAdjust="spacingAndGlyphs">0</text>
<text x="289.35" y="162.5" font-size="9.0" text-anchor="middle" fill="#222" stroke="#222" stroke-width="0.2" textLength="8.9" lengthAdjust="spacingAndGlyphs">50</text>
<text x="311.2" y="162.5" font-size="9.0" text-anchor="middle" fill="#222" stroke="#222" stroke-width="0.2" textLength="13.34" lengthAdjust="spacingAndGlyphs">100</text>
<text x="333.05" y="162.5" font-size="9.0" text-anchor="middle" fill="#222" stroke="#222" stroke-width="0.2" textLength="13.34" lengthAdjust="spacingAndGlyphs">150</text>
<text x="354.9" y="162.5" font-size="9.0" text-anchor="middle" fill="#222" stroke="#222" stroke-width="0.2" textLength="13.34" lengthAdjust="spacingAndGlyphs">200</text>
<text x="376.75" y="162.5" font-size="9.0" text-anchor="middle" fill="#222" stroke="#222" stroke-width="0.2" textLength="13.34" lengthAdjust="spacingAndGlyphs">250</text>
<text x="398.6" y="162.5" font-size="9.0" text-anchor="middle" fill="#222" stroke="#222" stroke-width="0.2" textLength="13.34" lengthAdjust="spacingAndGlyphs">300</text>
<text x="420.45" y="162.5" font-size="9.0" text-anchor="middle" fill="#222" stroke="#222" stroke-width="0.2" textLength="13.34" lengthAdjust="spacingAndGlyphs">350</text>
<text x="442.3" y="162.5" font-size="9.0" text-anchor="middle" fill="#222" stroke="#222" stroke-width="0.2" textLength="13.34" lengthAdjust="spacingAndGlyphs">400</text>
<path d="M267.5,152.2 v-2.5 M278.43,152.2 v-1.6 M289.35,152.2 v-2.5 M300.27,152.2 v-1.6 M311.2,152.2 v-2.5 M322.12,152.2 v-1.6 M333.05,152.2 v-2.5 M343.98,152.2 v-1.6 M354.9,152.2 v-2.5 M365.82,152.2 v-1.6 M376.75,152.2 v-2.5 M387.68,152.2 v-1.6 M398.6,152.2 v-2.5 M409.52,152.2 v-1.6 M420.45,152.2 v-2.5 M431.38,152.2 v-1.6 M442.3,152.2 v-2.5 " stroke="#111" stroke-width="1" fill="none"/>
<path d="M267.6,152.2 C267.83,151.8 268.4,150.72 269,149.8 C269.6,148.88 269.98,148.15 271.2,146.7 C272.42,145.25 274.3,142.82 276.3,141.1 C278.3,139.38 281.03,137.77 283.2,136.4 C285.37,135.03 287.13,133.83 289.3,132.9 C291.47,131.97 293.77,131.37 296.2,130.8 C298.63,130.23 301.02,129.75 303.9,129.5 C306.78,129.25 310.12,129.17 313.5,129.3 C316.88,129.43 320.48,129.8 324.2,130.3 C327.92,130.8 331.92,131.83 335.8,132.3 C339.68,132.77 343.98,132.95 347.5,133.1 C351.02,133.25 353.95,133.32 356.9,133.2 C359.85,133.08 362.53,132.92 365.2,132.4 C367.87,131.88 370.43,131.23 372.9,130.1 C375.37,128.97 377.95,127.53 380,125.6 C382.05,123.67 383.25,121.52 385.2,118.5 C387.15,115.48 389.75,112.35 391.7,107.5 C393.65,102.65 395.4,94.47 396.9,89.4 C398.4,84.33 399.38,81.73 400.7,77.1 C402.02,72.47 403.3,67.47 404.8,61.6 C406.3,55.73 408.02,49.28 409.7,41.9 C411.38,34.52 413.68,22.98 414.9,17.3 C416.12,11.62 416.65,9.38 417,7.8" stroke="#111" stroke-width="1.1" fill="none"/>
<g fill="#1a1a1a"><circle cx="267.6" cy="152.2" r="1.6"/><circle cx="268.1" cy="151.3" r="1.6"/><circle cx="268.63" cy="150.39" r="1.6"/><circle cx="269.22" cy="149.46" r="1.6"/><circle cx="269.87" cy="148.45" r="1.6"/><circle cx="270.66" cy="147.37" r="1.6"/><circle cx="271.52" cy="146.32" r="1.6"/><circle cx="272.42" cy="145.22" r="1.6"/><circle cx="273.46" cy="144" r="1.6"/><circle cx="274.59" cy="142.74" r="1.6"/><circle cx="275.8" cy="141.54" r="1.6"/><circle cx="277.36" cy="140.25" r="1.6"/><circle cx="279.09" cy="139.02" r="1.6"/><circle cx="280.89" cy="137.84" r="1.6"/><circle cx="282.93" cy="136.57" r="1.6"/><circle cx="285.26" cy="135.09" r="1.6"/><circle cx="287.74" cy="133.65" r="1.6"/><circle cx="290.67" cy="132.36" r="1.6"/><circle cx="294.1" cy="131.31" r="1.6"/><circle cx="298.02" cy="130.39" r="1.6"/><circle cx="302.16" cy="129.69" r="1.6"/><circle cx="306.53" cy="129.33" r="1.6"/><circle cx="310.98" cy="129.24" r="1.6"/><circle cx="315.64" cy="129.41" r="1.6"/><circle cx="320.07" cy="129.8" r="1.6"/><circle cx="324.2" cy="130.3" r="1.6"/><circle cx="328.48" cy="131.03" r="1.6"/><circle cx="332.38" cy="131.77" r="1.6"/><circle cx="336.29" cy="132.36" r="1.6"/><circle cx="340.28" cy="132.72" r="1.6"/><circle cx="344.25" cy="132.95" r="1.6"/><circle cx="348.37" cy="133.14" r="1.6"/><circle cx="352.41" cy="133.25" r="1.6"/><circle cx="356.53" cy="133.21" r="1.6"/><circle cx="360.47" cy="133.01" r="1.6"/><circle cx="364.53" cy="132.52" r="1.6"/><circle cx="368.48" cy="131.66" r="1.6"/><circle cx="414.9" cy="17.3" r="1.75"/><circle cx="409.7" cy="41.9" r="1.75"/><circle cx="404.8" cy="61.6" r="1.75"/><circle cx="400.7" cy="77.1" r="1.75"/><circle cx="396.9" cy="89.4" r="1.75"/><circle cx="394.3" cy="99.3" r="1.75"/><circle cx="391.7" cy="107.5" r="1.75"/><circle cx="387.8" cy="113.9" r="1.75"/><circle cx="385.2" cy="118.5" r="1.75"/><circle cx="382.6" cy="122.3" r="1.75"/><circle cx="380" cy="125.6" r="1.75"/><circle cx="376.8" cy="128.2" r="1.75"/><circle cx="372.9" cy="130.1" r="1.75"/></g>
<path d="M275.4,64.7 H287.9 L288.97,62.7 L291.1,66.7 L293.23,62.7 L295.37,66.7 L297.5,62.7 L299.63,66.7 L300.7,64.7 H319.8 M325,64.7 H344.4 M349.4,64.7 H364.8 M312,64.7 V75.7 H314.4 L315.95,73.7 L319.05,77.7 L322.15,73.7 L325.25,77.7 L328.35,73.7 L331.45,77.7 L333,75.7 H334.6 V64.7 M319.8,62.7 L322,64.7 L319.8,66.7 M322.6,62.7 L324.8,64.7 L322.6,66.7 M324.8,64.7 H325 M344.6,63.5 L345.7,66.3 L346.9,64.3 L348.1,66.3 L349.2,63.5 " stroke="#222" stroke-width="0.85" fill="none" stroke-linejoin="miter"/>
<circle cx="312" cy="64.7" r="1.4" fill="#111"/>
<text x="294.5" y="60.9" font-size="3.4" text-anchor="middle" fill="#222" >Rs</text>
<text x="323.6" y="60.9" font-size="3.4" text-anchor="middle" fill="#222" >CPE</text>
<text x="323.6" y="72.3" font-size="3.4" text-anchor="middle" fill="#222" >Rct</text>
<text x="346.9" y="60.9" font-size="3.4" text-anchor="middle" fill="#222" >Zw</text>
<text x="421.7" y="24.9" font-size="18.5" text-anchor="start" fill="#111" stroke="#111" stroke-width="0.4">d</text>
<line x1="281.9" y1="20.1" x2="300.2" y2="20.1" stroke="#333" stroke-width="1.2"/>
<circle cx="291.1" cy="20.1" r="1.6" fill="#111"/>
<text x="303.4" y="22.8" font-size="9.18" text-anchor="start" fill="#222" stroke="#222" stroke-width="0.18" textLength="29.76" lengthAdjust="spacingAndGlyphs">SVC-21</text>
<text x="332.3" y="177.2" font-size="11.8" text-anchor="start" fill="#111" stroke="#111" stroke-width="0.22">Z′</text>
<text x="351.7" y="177.2" font-size="11.8" text-anchor="start" fill="#111" stroke="#111" stroke-width="0.22">(ohm)</text>
<text x="0" y="0" font-size="12" text-anchor="middle" fill="#111" stroke="#111" stroke-width="0.22" transform="translate(244.3,82.2) rotate(-90)">Z"(ohm)</text>
<rect x="266.7" y="187.4" width="175.8" height="145.1" fill="none" stroke="#111" stroke-width="1.2"/>
<text x="263.5" y="335.2" font-size="9.0" text-anchor="end" fill="#222" stroke="#222" stroke-width="0.2" textLength="4.45" lengthAdjust="spacingAndGlyphs">0</text>
<text x="263.5" y="311.02" font-size="9.0" text-anchor="end" fill="#222" stroke="#222" stroke-width="0.2" textLength="8.9" lengthAdjust="spacingAndGlyphs">50</text>
<text x="263.5" y="286.83" font-size="9.0" text-anchor="end" fill="#222" stroke="#222" stroke-width="0.2" textLength="13.34" lengthAdjust="spacingAndGlyphs">100</text>
<text x="263.5" y="262.65" font-size="9.0" text-anchor="end" fill="#222" stroke="#222" stroke-width="0.2" textLength="13.34" lengthAdjust="spacingAndGlyphs">150</text>
<text x="263.5" y="238.47" font-size="9.0" text-anchor="end" fill="#222" stroke="#222" stroke-width="0.2" textLength="13.34" lengthAdjust="spacingAndGlyphs">200</text>
<text x="263.5" y="214.28" font-size="9.0" text-anchor="end" fill="#222" stroke="#222" stroke-width="0.2" textLength="13.34" lengthAdjust="spacingAndGlyphs">250</text>
<text x="263.5" y="190.1" font-size="9.0" text-anchor="end" fill="#222" stroke="#222" stroke-width="0.2" textLength="13.34" lengthAdjust="spacingAndGlyphs">300</text>
<path d="M266.7,332.5 h2.5 M266.7,320.41 h1.6 M266.7,308.32 h2.5 M266.7,296.23 h1.6 M266.7,284.13 h2.5 M266.7,272.04 h1.6 M266.7,259.95 h2.5 M266.7,247.86 h1.6 M266.7,235.77 h2.5 M266.7,223.68 h1.6 M266.7,211.58 h2.5 M266.7,199.49 h1.6 M266.7,187.4 h2.5 " stroke="#111" stroke-width="1" fill="none"/>
<text x="266.7" y="342" font-size="9.0" text-anchor="middle" fill="#222" stroke="#222" stroke-width="0.2" textLength="4.45" lengthAdjust="spacingAndGlyphs">0</text>
<text x="296" y="342" font-size="9.0" text-anchor="middle" fill="#222" stroke="#222" stroke-width="0.2" textLength="8.9" lengthAdjust="spacingAndGlyphs">50</text>
<text x="325.3" y="342" font-size="9.0" text-anchor="middle" fill="#222" stroke="#222" stroke-width="0.2" textLength="13.34" lengthAdjust="spacingAndGlyphs">100</text>
<text x="354.6" y="342" font-size="9.0" text-anchor="middle" fill="#222" stroke="#222" stroke-width="0.2" textLength="13.34" lengthAdjust="spacingAndGlyphs">150</text>
<text x="383.9" y="342" font-size="9.0" text-anchor="middle" fill="#222" stroke="#222" stroke-width="0.2" textLength="13.34" lengthAdjust="spacingAndGlyphs">200</text>
<text x="413.2" y="342" font-size="9.0" text-anchor="middle" fill="#222" stroke="#222" stroke-width="0.2" textLength="13.34" lengthAdjust="spacingAndGlyphs">250</text>
<text x="442.5" y="342" font-size="9.0" text-anchor="middle" fill="#222" stroke="#222" stroke-width="0.2" textLength="13.34" lengthAdjust="spacingAndGlyphs">300</text>
<path d="M266.7,332.5 v-2.5 M281.35,332.5 v-1.6 M296,332.5 v-2.5 M310.65,332.5 v-1.6 M325.3,332.5 v-2.5 M339.95,332.5 v-1.6 M354.6,332.5 v-2.5 M369.25,332.5 v-1.6 M383.9,332.5 v-2.5 M398.55,332.5 v-1.6 M413.2,332.5 v-2.5 M427.85,332.5 v-1.6 M442.5,332.5 v-2.5 " stroke="#111" stroke-width="1" fill="none"/>
<path d="M269.9,332.6 C270.17,332.08 270.85,330.47 271.5,329.5 C272.15,328.53 272.57,327.68 273.8,326.8 C275.03,325.92 276.97,324.77 278.9,324.2 C280.83,323.63 283.23,323.4 285.4,323.4 C287.57,323.4 289.53,323.73 291.9,324.2 C294.27,324.67 297.37,325.55 299.6,326.2 C301.83,326.85 303.77,328 305.3,328.1 C306.83,328.2 307.65,327.77 308.8,326.8 C309.95,325.83 311.17,324.02 312.2,322.3 C313.23,320.58 313.97,319.08 315,316.5 C316.03,313.92 317.35,309.45 318.4,306.8 C319.45,304.15 320.33,303.02 321.3,300.6 C322.27,298.18 323,295.53 324.2,292.3 C325.4,289.07 327.07,285.55 328.5,281.2 C329.93,276.85 330.9,271.87 332.8,266.2 C334.7,260.53 337.65,254.38 339.9,247.2 C342.15,240.02 343.32,232.78 346.3,223.1 C349.28,213.42 355.78,195.05 357.8,189.1 C359.82,183.15 358.3,187.68 358.4,187.4" stroke="#111" stroke-width="1.1" fill="none"/>
<g fill="#1a1a1a"><circle cx="269.9" cy="332.6" r="1.6"/><circle cx="270.49" cy="331.36" r="1.6"/><circle cx="271.09" cy="330.17" r="1.6"/><circle cx="271.81" cy="329.03" r="1.6"/><circle cx="272.61" cy="327.9" r="1.6"/><circle cx="273.51" cy="327.02" r="1.6"/><circle cx="274.66" cy="326.22" r="1.6"/><circle cx="275.87" cy="325.5" r="1.6"/><circle cx="277.23" cy="324.82" r="1.6"/><circle cx="278.66" cy="324.27" r="1.6"/><circle cx="280.16" cy="323.89" r="1.6"/><circle cx="281.51" cy="323.66" r="1.6"/><circle cx="282.9" cy="323.5" r="1.6"/><circle cx="284.3" cy="323.42" r="1.6"/><circle cx="285.67" cy="323.4" r="1.6"/><circle cx="287.26" cy="323.48" r="1.6"/><circle cx="288.84" cy="323.66" r="1.6"/><circle cx="290.47" cy="323.93" r="1.6"/><circle cx="291.9" cy="324.2" r="1.6"/><circle cx="293.46" cy="324.54" r="1.6"/><circle cx="295.12" cy="324.95" r="1.6"/><circle cx="296.81" cy="325.4" r="1.6"/><circle cx="298.42" cy="325.86" r="1.6"/><circle cx="299.88" cy="326.28" r="1.6"/><circle cx="301.48" cy="326.86" r="1.6"/><circle cx="302.95" cy="327.45" r="1.6"/><circle cx="304.5" cy="327.97" r="1.6"/><circle cx="306.17" cy="328.09" r="1.6"/><circle cx="307.72" cy="327.59" r="1.6"/><circle cx="309.09" cy="326.54" r="1.6"/><circle cx="310.25" cy="325.22" r="1.6"/><circle cx="311.26" cy="323.8" r="1.6"/><circle cx="312.2" cy="322.3" r="1.6"/><circle cx="313.04" cy="320.82" r="1.6"/><circle cx="313.82" cy="319.26" r="1.6"/><circle cx="314.51" cy="317.71" r="1.6"/><circle cx="316.8" cy="311.7" r="1.75"/><circle cx="318.4" cy="306.8" r="1.75"/><circle cx="321.3" cy="300.6" r="1.75"/><circle cx="324.2" cy="292.3" r="1.75"/><circle cx="328.5" cy="281.2" r="1.75"/><circle cx="332.8" cy="266.2" r="1.75"/><circle cx="339.9" cy="247.2" r="1.75"/><circle cx="346.3" cy="223.1" r="1.75"/><circle cx="357.8" cy="189.1" r="1.75"/></g>
<path d="M337.4,274.4 H350.65 L351.78,272.28 L354.05,276.52 L356.31,272.28 L358.57,276.52 L360.83,272.28 L363.09,276.52 L364.22,274.4 H384.47 M389.98,274.4 H410.54 M415.84,274.4 H432.17 M376.2,274.4 V286.06 H378.74 L380.39,283.94 L383.67,288.18 L386.96,283.94 L390.25,288.18 L393.53,283.94 L396.82,288.18 L398.46,286.06 H400.16 V274.4 M384.47,272.28 L386.8,274.4 L384.47,276.52 M387.44,272.28 L389.77,274.4 L387.44,276.52 M389.77,274.4 H389.98 M410.76,273.13 L411.92,276.1 L413.19,273.98 L414.47,276.1 L415.63,273.13 " stroke="#222" stroke-width="0.85" fill="none" stroke-linejoin="miter"/>
<circle cx="376.2" cy="274.4" r="1.48" fill="#111"/>
<text x="357.65" y="270.37" font-size="3.6" text-anchor="middle" fill="#222" >Rs</text>
<text x="388.5" y="270.37" font-size="3.6" text-anchor="middle" fill="#222" >CPE</text>
<text x="388.5" y="282.46" font-size="3.6" text-anchor="middle" fill="#222" >Rct</text>
<text x="413.19" y="270.37" font-size="3.6" text-anchor="middle" fill="#222" >Zw</text>
<text x="423.2" y="204.6" font-size="18.5" text-anchor="start" fill="#111" stroke="#111" stroke-width="0.4">e</text>
<line x1="274.6" y1="199.4" x2="294" y2="199.4" stroke="#333" stroke-width="1.2"/>
<circle cx="285" cy="199.4" r="1.6" fill="#111"/>
<text x="297.3" y="202.2" font-size="9.18" text-anchor="start" fill="#222" stroke="#222" stroke-width="0.18" textLength="29.13" lengthAdjust="spacingAndGlyphs">SVC-11</text>
<text x="326.5" y="356.2" font-size="11.8" text-anchor="start" fill="#111" stroke="#111" stroke-width="0.22">Z′</text>
<text x="345.9" y="356.2" font-size="11.8" text-anchor="start" fill="#111" stroke="#111" stroke-width="0.22">(ohm)</text>
<text x="0" y="0" font-size="12" text-anchor="middle" fill="#111" stroke="#111" stroke-width="0.22" transform="translate(246,260.5) rotate(-90)">Z"(ohm)</text>
<rect x="267.7" y="366.1" width="179.7" height="148.7" fill="none" stroke="#111" stroke-width="1.2"/>
<text x="264.5" y="517.5" font-size="9.0" text-anchor="end" fill="#222" stroke="#222" stroke-width="0.2" textLength="4.45" lengthAdjust="spacingAndGlyphs">0</text>
<text x="264.5" y="492.72" font-size="9.0" text-anchor="end" fill="#222" stroke="#222" stroke-width="0.2" textLength="8.9" lengthAdjust="spacingAndGlyphs">50</text>
<text x="264.5" y="467.93" font-size="9.0" text-anchor="end" fill="#222" stroke="#222" stroke-width="0.2" textLength="13.34" lengthAdjust="spacingAndGlyphs">100</text>
<text x="264.5" y="443.15" font-size="9.0" text-anchor="end" fill="#222" stroke="#222" stroke-width="0.2" textLength="13.34" lengthAdjust="spacingAndGlyphs">150</text>
<text x="264.5" y="418.37" font-size="9.0" text-anchor="end" fill="#222" stroke="#222" stroke-width="0.2" textLength="13.34" lengthAdjust="spacingAndGlyphs">200</text>
<text x="264.5" y="393.58" font-size="9.0" text-anchor="end" fill="#222" stroke="#222" stroke-width="0.2" textLength="13.34" lengthAdjust="spacingAndGlyphs">250</text>
<text x="264.5" y="368.8" font-size="9.0" text-anchor="end" fill="#222" stroke="#222" stroke-width="0.2" textLength="13.34" lengthAdjust="spacingAndGlyphs">300</text>
<path d="M267.7,514.8 h2.5 M267.7,502.41 h1.6 M267.7,490.02 h2.5 M267.7,477.62 h1.6 M267.7,465.23 h2.5 M267.7,452.84 h1.6 M267.7,440.45 h2.5 M267.7,428.06 h1.6 M267.7,415.67 h2.5 M267.7,403.27 h1.6 M267.7,390.88 h2.5 M267.7,378.49 h1.6 M267.7,366.1 h2.5 " stroke="#111" stroke-width="1" fill="none"/>
<text x="267.7" y="525.4" font-size="9.0" text-anchor="middle" fill="#222" stroke="#222" stroke-width="0.2" textLength="4.45" lengthAdjust="spacingAndGlyphs">0</text>
<text x="297.65" y="525.4" font-size="9.0" text-anchor="middle" fill="#222" stroke="#222" stroke-width="0.2" textLength="8.9" lengthAdjust="spacingAndGlyphs">50</text>
<text x="327.6" y="525.4" font-size="9.0" text-anchor="middle" fill="#222" stroke="#222" stroke-width="0.2" textLength="13.34" lengthAdjust="spacingAndGlyphs">100</text>
<text x="357.55" y="525.4" font-size="9.0" text-anchor="middle" fill="#222" stroke="#222" stroke-width="0.2" textLength="13.34" lengthAdjust="spacingAndGlyphs">150</text>
<text x="387.5" y="525.4" font-size="9.0" text-anchor="middle" fill="#222" stroke="#222" stroke-width="0.2" textLength="13.34" lengthAdjust="spacingAndGlyphs">200</text>
<text x="417.45" y="525.4" font-size="9.0" text-anchor="middle" fill="#222" stroke="#222" stroke-width="0.2" textLength="13.34" lengthAdjust="spacingAndGlyphs">250</text>
<text x="447.4" y="525.4" font-size="9.0" text-anchor="middle" fill="#222" stroke="#222" stroke-width="0.2" textLength="13.34" lengthAdjust="spacingAndGlyphs">300</text>
<path d="M267.7,514.8 v-2.5 M282.68,514.8 v-1.6 M297.65,514.8 v-2.5 M312.62,514.8 v-1.6 M327.6,514.8 v-2.5 M342.57,514.8 v-1.6 M357.55,514.8 v-2.5 M372.52,514.8 v-1.6 M387.5,514.8 v-2.5 M402.48,514.8 v-1.6 M417.45,514.8 v-2.5 M432.42,514.8 v-1.6 M447.4,514.8 v-2.5 " stroke="#111" stroke-width="1" fill="none"/>
<path d="M268,514.8 C268.33,514.17 268.9,512.28 270,511 C271.1,509.72 272.93,508.13 274.6,507.1 C276.27,506.07 277.7,505.77 280,504.8 C282.3,503.83 285.6,501.88 288.4,501.3 C291.2,500.72 293.53,500.95 296.8,501.3 C300.07,501.65 304.27,502.7 308,503.4 C311.73,504.1 315.93,505.27 319.2,505.5 C322.47,505.73 324.8,505.85 327.6,504.8 C330.4,503.75 334.13,500.83 336,499.2 C337.87,497.57 337.9,496.73 338.8,495 C339.7,493.27 340.53,491.63 341.4,488.8 C342.27,485.97 342.92,482.67 344,478 C345.08,473.33 346.8,466.3 347.9,460.8 C349,455.3 349.32,451.12 350.6,445 C351.88,438.88 353.93,432.28 355.6,424.1 C357.27,415.92 358.93,405.57 360.6,395.9 C362.27,386.23 364.77,371.07 365.6,366.1" stroke="#111" stroke-width="1.1" fill="none"/>
<g fill="#1a1a1a"><circle cx="268" cy="514.8" r="1.55"/><circle cx="268.56" cy="513.49" r="1.55"/><circle cx="269.17" cy="512.23" r="1.55"/><circle cx="270" cy="511" r="1.55"/><circle cx="270.95" cy="509.99" r="1.55"/><circle cx="272.09" cy="508.96" r="1.55"/><circle cx="273.33" cy="507.96" r="1.55"/><circle cx="274.6" cy="507.1" r="1.55"/><circle cx="276.03" cy="506.35" r="1.55"/><circle cx="277.5" cy="505.76" r="1.55"/><circle cx="279.18" cy="505.13" r="1.55"/><circle cx="280.91" cy="504.4" r="1.55"/><circle cx="282.58" cy="503.59" r="1.55"/><circle cx="284.38" cy="502.74" r="1.55"/><circle cx="286.23" cy="501.96" r="1.55"/><circle cx="288.4" cy="501.3" r="1.55"/><circle cx="290.43" cy="501" r="1.55"/><circle cx="292.76" cy="500.96" r="1.55"/><circle cx="294.87" cy="501.1" r="1.55"/><circle cx="297.21" cy="501.35" r="1.55"/><circle cx="299.4" cy="501.68" r="1.55"/><circle cx="301.75" cy="502.12" r="1.55"/><circle cx="304.16" cy="502.62" r="1.55"/><circle cx="306.58" cy="503.12" r="1.55"/><circle cx="308.94" cy="503.58" r="1.55"/><circle cx="311.35" cy="504.1" r="1.55"/><circle cx="313.77" cy="504.62" r="1.55"/><circle cx="316.14" cy="505.09" r="1.55"/><circle cx="318.36" cy="505.42" r="1.55"/><circle cx="320.38" cy="505.58" r="1.55"/><circle cx="322.56" cy="505.66" r="1.55"/><circle cx="324.57" cy="505.54" r="1.55"/><circle cx="326.57" cy="505.14" r="1.55"/><circle cx="328.69" cy="504.32" r="1.55"/><circle cx="330.61" cy="503.24" r="1.55"/><circle cx="332.53" cy="501.95" r="1.55"/><circle cx="334.29" cy="500.62" r="1.55"/><circle cx="336" cy="499.2" r="1.55"/><circle cx="337.47" cy="497.61" r="1.55"/><circle cx="339.3" cy="494.2" r="1.75"/><circle cx="341.4" cy="488.8" r="1.75"/><circle cx="344" cy="481.3" r="1.75"/><circle cx="344.6" cy="471.6" r="1.75"/><circle cx="347.9" cy="460.8" r="1.75"/><circle cx="350.6" cy="445" r="1.75"/><circle cx="355.6" cy="424.1" r="1.75"/><circle cx="360.6" cy="395.9" r="1.75"/></g>
<path d="M268.1,400.7 H280.6 L281.67,398.7 L283.8,402.7 L285.93,398.7 L288.07,402.7 L290.2,398.7 L292.33,402.7 L293.4,400.7 H312.5 M317.7,400.7 H337.1 M342.1,400.7 H357.5 M304.7,400.7 V411.7 H307.1 L308.65,409.7 L311.75,413.7 L314.85,409.7 L317.95,413.7 L321.05,409.7 L324.15,413.7 L325.7,411.7 H327.3 V400.7 M312.5,398.7 L314.7,400.7 L312.5,402.7 M315.3,398.7 L317.5,400.7 L315.3,402.7 M317.5,400.7 H317.7 M337.3,399.5 L338.4,402.3 L339.6,400.3 L340.8,402.3 L341.9,399.5 " stroke="#222" stroke-width="0.85" fill="none" stroke-linejoin="miter"/>
<circle cx="304.7" cy="400.7" r="1.4" fill="#111"/>
<text x="287.2" y="396.9" font-size="3.4" text-anchor="middle" fill="#222" >Rs</text>
<text x="316.3" y="396.9" font-size="3.4" text-anchor="middle" fill="#222" >CPE</text>
<text x="316.3" y="408.3" font-size="3.4" text-anchor="middle" fill="#222" >Rct</text>
<text x="339.6" y="396.9" font-size="3.4" text-anchor="middle" fill="#222" >Zw</text>
<text x="430.8" y="388.8" font-size="18.5" text-anchor="start" fill="#111" stroke="#111" stroke-width="0.4">f</text>
<line x1="275.3" y1="378.6" x2="294.2" y2="378.6" stroke="#333" stroke-width="1.2"/>
<circle cx="285.9" cy="378.6" r="1.6" fill="#111"/>
<text x="298.2" y="381.8" font-size="9.18" text-anchor="start" fill="#222" stroke="#222" stroke-width="0.18" textLength="29.76" lengthAdjust="spacingAndGlyphs">SVC-12</text>
<text x="331.9" y="542.1" font-size="11.8" text-anchor="start" fill="#111" stroke="#111" stroke-width="0.22">Z′</text>
<text x="351.3" y="542.1" font-size="11.8" text-anchor="start" fill="#111" stroke="#111" stroke-width="0.22">(ohm)</text>
<text x="0" y="0" font-size="12" text-anchor="middle" fill="#111" stroke="#111" stroke-width="0.22" transform="translate(246.5,440.8) rotate(-90)">Z"(ohm)</text>
</svg>
</body></html>
